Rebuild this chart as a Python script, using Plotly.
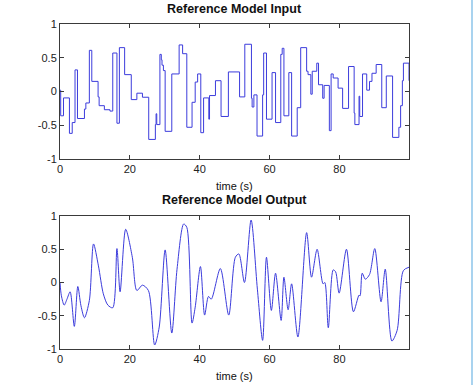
import plotly.graph_objects as go
from plotly.subplots import make_subplots

# Reference model input (step signal): change times and values
in_t = [0, 0.2, 1.0, 2.7, 3.5, 4.3, 5.0, 7.0, 7.4, 8.4, 9.1, 10.9, 11.2, 12.7, 14.3, 15.1,
        16.3, 17.0, 18.5, 20.4, 22.0, 23.6, 25.4, 27.3, 27.5, 27.7, 28.6, 29.0, 29.2, 29.6,
        30.1, 32.0, 34.1, 35.1, 36.3, 37.8, 38.7, 39.4, 40.3, 41.1, 42.6, 42.8, 44.5, 46.1,
        48.2, 51.4, 52.9, 54.8, 55.0, 55.5, 56.4, 58.0, 58.3, 59.1, 60.7, 61.7, 63.2, 63.6,
        64.1, 65.5, 66.3, 67.9, 68.9, 70.6, 71.0, 71.8, 72.2, 73.5, 74.0, 75.2, 75.6,
        77.1, 77.6, 78.2, 79.6, 80.9, 82.6, 84.2, 84.4, 85.6, 85.8, 86.6, 87.8, 88.6, 89.3,
        90.5, 92.1, 93.4, 95.2, 97.0, 97.5, 98.0, 98.3, 99.9]
in_v = [0.02, -0.36, -0.095, -0.62, -0.46, 0.32, -0.40, -0.26, -0.17, 0.61, 0.15, -0.08, -0.21, -0.27, -0.29, 0.57,
        -0.47, 0.65, 0.25, -0.12, -0.025, -0.085, -0.71, -0.49, -0.33, -0.49, 0.55, 0.47, 0.39, 0.31,
        -0.59, 0.26, 0.69, 0.56, -0.53, -0.16, 0.14, 0.26, -0.61, -0.095, -0.41, -0.06, 0.16, -0.37,
        0.29, -0.08, 0.70, -0.10, -0.23, -0.05, -0.66, -0.05, 0.57, -0.41, 0.28, -0.46, 0.55, 0.64,
        -0.36, 0.28, -0.66, -0.24, 0.65, 0.30, 0.25, -0.04, 0.30, 0.42, 0.10, -0.10, 0.09,
        -0.58, 0.26, 0.20, 0.05, -0.25, 0.37, -0.32, -0.49, -0.07, -0.37, 0.26, 0.02, 0.15, 0.27,
        0.40, -0.24, 0.23, -0.68, -0.53, -0.21, 0.16, 0.42, 0.16]

# Reference model output (smooth response): sampled points
out_t = [0, 0.4, 1.2, 2.0, 2.9, 4.1, 5.1, 6.0, 7.0, 8.4, 9.6, 11.0, 12.4, 13.7, 15.1, 16.3,
         17.2, 18.8, 20.7, 22.0, 23.6, 25.3, 27.1, 28.4, 30.1, 32.0, 33.5, 35.4, 36.3, 37.8,
         38.7, 40.2, 41.4, 42.5, 43.3, 45.9, 48.3, 50.2, 51.2, 52.8, 54.7, 56.5, 58.0, 59.1,
         60.5, 61.7, 63.3, 64.1, 65.3, 66.3, 68.1, 70.6, 72.0, 73.6, 75.3, 75.8, 76.8, 78.2,
         78.9, 79.9, 82.0, 84.0, 85.6, 85.9, 86.5, 87.4, 88.6, 90.1, 91.9, 93.1, 95.0, 96.5,
         98.3, 99.9]
out_v = [0.0, -0.20, -0.34, -0.25, -0.14, -0.66, -0.06, -0.35, -0.53, -0.27, 0.58, 0.25, -0.17, -0.34, -0.38, 0.51,
         -0.14, 0.80, 0.38, -0.12, -0.04, -0.12, -0.94, -0.67, 0.49, -0.76, 0.20, 0.88, 0.83, -0.61,
         -0.37, 0.24, -0.49, -0.21, -0.25, 0.21, -0.49, 0.38, 0.43, 0.0, 0.94, -0.10, -0.87, 0.38,
         -0.42, 0.14, -0.57, 0.08, -0.41, -0.02, -0.82, 0.75, 0.08, 0.50, -0.02, 0.0, -0.68, 0.19,
         0.16, -0.16, 0.50, -0.44, -0.19, -0.20, 0.14, 0.05, 0.12, 0.51, -0.29, 0.20, -0.88, -0.72,
         0.18, 0.23]

x_ticks = [0, 20, 40, 60, 80]
y_ticks = [-1, -0.5, 0, 0.5, 1]
y_tick_text = ["-1", "-0.5", "0", "0.5", "1"]

line_col = "#3c3cdc"
axis_col = "#3a3a3a"
font_fam = "Liberation Sans, Arial, sans-serif"

fig = make_subplots(rows=2, cols=1, vertical_spacing=0.0)
fig.add_trace(go.Scatter(x=in_t, y=in_v, mode="lines", line=dict(color=line_col, width=1, shape="hv")), row=1, col=1)
fig.add_trace(go.Scatter(x=out_t, y=out_v, mode="lines", line=dict(color=line_col, width=1, shape="spline", smoothing=0.8)), row=2, col=1)

axis_common = dict(showgrid=False, zeroline=False, showline=True, linecolor=axis_col, linewidth=1,
                   mirror="allticks", ticks="inside", ticklen=4, tickcolor=axis_col,
                   tickfont=dict(family=font_fam, size=11, color="#222222"))

fig.update_xaxes(range=[0, 99.9], tickvals=x_ticks, **axis_common)
fig.update_yaxes(range=[-1, 1], tickvals=y_ticks, ticktext=y_tick_text, **axis_common)
fig.update_layout(yaxis=dict(domain=[0.5846, 1.0]), yaxis2=dict(domain=[0.0, 0.4092]))

def py(p):
    return (349 - p) / 325.0

annots = [
    ("<b>Reference Model Input</b>", 9, 12.5),
    ("<b>Reference Model Output</b>", 200, 12.5),
    ("time (s)", 186, 11),
    ("time (s)", 376, 11),
]
for txt, p, s in annots:
    fig.add_annotation(text=txt, x=0.5, y=py(p), xref="paper", yref="paper", showarrow=False,
                       xanchor="center", yanchor="middle",
                       font=dict(family=font_fam, size=s, color="#111111"))

# light frame line on the right edge of the picture
fig.add_shape(type="line", xref="paper", yref="paper", x0=(472 - 60) / 349.0, x1=(472 - 60) / 349.0,
              y0=py(0), y1=py(385), line=dict(color="#a9d3ef", width=2))

fig.update_layout(width=474, height=385, margin=dict(l=60, r=65, t=24, b=36),
                  paper_bgcolor="white", plot_bgcolor="white", showlegend=False)

# remove the page's default body margin so the figure sits at the window's corner
fig.write_html("out.html", config={"displayModeBar": False},
               post_script="document.body.style.margin='0';document.body.style.overflow='hidden';")
